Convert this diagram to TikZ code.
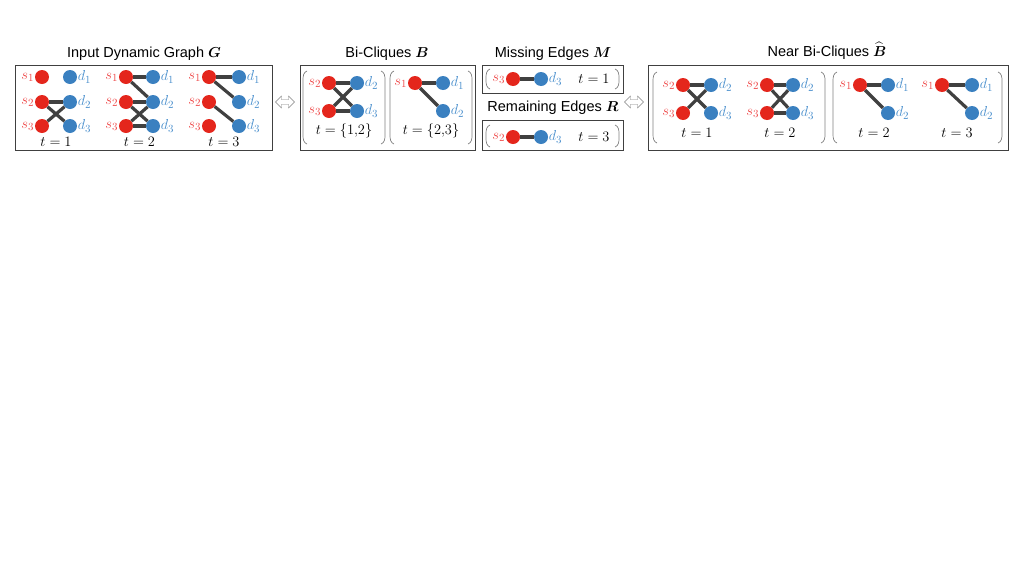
\documentclass[tikz,border=0pt]{standalone}
\usepackage{fontspec}
\setmainfont{Liberation Sans}
\usepackage{amsmath}
\usetikzlibrary{shapes,arrows}
\definecolor{sred}{RGB}{228,38,28}
\definecolor{dblue}{RGB}{58,128,192}
\definecolor{lred}{RGB}{238,72,72}
\definecolor{lblue}{RGB}{72,142,204}
\definecolor{egray}{RGB}{64,64,64}
\newcommand{\lparen}[3]{\draw[paren] (#1+4,#2) to[out=200,in=90] (#1,#2+9) -- (#1,#3-9) to[out=-90,in=160] (#1+4,#3);}
\newcommand{\rparen}[3]{\draw[paren] (#1-4,#2) to[out=-20,in=90] (#1,#2+9) -- (#1,#3-9) to[out=-90,in=20] (#1-4,#3);}
\begin{document}
\begin{tikzpicture}[x=1pt,y=-1pt,
  src/.style={circle, fill=sred, minimum size=14pt, inner sep=0pt,
    label={[text=lred, inner sep=0.5pt, font=\fontsize{15.5}{17}\selectfont]left:$s_{#1}$}},
  dst/.style={circle, fill=dblue, minimum size=14pt, inner sep=0pt,
    label={[text=lblue, inner sep=0.5pt, font=\fontsize{15.5}{17}\selectfont]right:$d_{#1}$}},
  edge/.style={draw=egray, line width=3.2pt},
  frame/.style={draw=egray, line width=0.8pt},
  paren/.style={draw=gray, line width=0.7pt},
  title/.style={font=\fontsize{14.5}{17}\selectfont},
  tlab/.style={font=\fontsize{15.5}{17}\selectfont, inner sep=0pt},
  dbl/.style={double arrow, draw=gray, fill=white, minimum height=19pt, minimum width=12pt, double arrow head extend=2pt, inner sep=1pt}
]
\useasboundingbox (0,0) rectangle (1024,576);

% input graph G
\node[title] (tG) at (144,54) {Input Dynamic Graph $\boldsymbol{G}$};
\draw[frame] (15,65) rectangle (272,150);
\foreach \c/\xs/\xd/\tt in {a/42/70/1, b/126/153/2, c/209/239/3} {
  \foreach \i/\y in {1/77, 2/102, 3/126} {
    \node[src=\i] (\c s\i) at (\xs,\y) {};
    \node[dst=\i] (\c d\i) at (\xd,\y) {};
  }
  \node[tlab] (\c t) at ({(\xs+\xd)/2},142) {$t=\tt$};
}
\foreach \a/\b in {as2/ad2, as2/ad3, as3/ad2,
  bs1/bd1, bs1/bd2, bs2/bd2, bs2/bd3, bs3/bd2, bs3/bd3,
  cs1/cd1, cs1/cd2, cs2/cd3}
  \draw[edge] (\a) -- (\b);

\node[dbl] (arr1) at (285,102) {};

% bi-cliques B
\node[title] (tB) at (387,54) {Bi-Cliques $\boldsymbol{B}$};
\draw[frame] (300,65) rectangle (475,150);
\lparen{303}{71}{144} \rparen{385}{71}{144}
\node[src=2] (e2) at (329,83) {};
\node[src=3] (e3) at (329,111) {};
\node[dst=2] (f2) at (357,83) {};
\node[dst=3] (f3) at (357,111) {};
\node[tlab] (et) at (344,131) {$t=\{1{,}2\}$};
\foreach \a/\b in {e2/f2, e2/f3, e3/f2, e3/f3}
  \draw[edge] (\a) -- (\b);
\lparen{390}{71}{144} \rparen{472}{71}{144}
\node[src=1] (g1) at (415,83) {};
\node[dst=1] (h1) at (443,83) {};
\node[dst=2] (h2) at (443,111) {};
\node[tlab] (gt) at (431,131) {$t=\{2{,}3\}$};
\draw[edge] (g1) -- (h1);
\draw[edge] (g1) -- (h2);

% missing and remaining edges
\node[title] (tM) at (553,54) {Missing Edges $\boldsymbol{M}$};
\draw[frame] (482,65) rectangle (623,93);
\lparen{486}{69}{89} \rparen{619}{69}{89}
\node[src=3] (m1) at (513,79) {};
\node[dst=3] (m2) at (541,79) {};
\node[tlab] (mt) at (594,79) {$t=1$};
\draw[edge] (m1) -- (m2);
\node[title] (tR) at (553,108) {Remaining Edges $\boldsymbol{R}$};
\draw[frame] (482,120) rectangle (623,150);
\lparen{486}{125}{147} \rparen{619}{125}{147}
\node[src=2] (r1) at (513,137) {};
\node[dst=3] (r2) at (541,137) {};
\node[tlab] (rt) at (594,137) {$t=3$};
\draw[edge] (r1) -- (r2);

\node[dbl] (arr2) at (634,102) {};

% near bi-cliques
\node[title] (tN) at (827,51) {Near Bi-Cliques $\widehat{\boldsymbol{B}}$};
\draw[frame] (648,65) rectangle (1008,150);
\lparen{653}{72}{143} \rparen{825}{72}{143}
\foreach \c/\xs/\xd/\tt in {n/683/711/1, p/767/793/2} {
  \node[src=2] (\c s2) at (\xs,85) {};
  \node[src=3] (\c s3) at (\xs,113) {};
  \node[dst=2] (\c d2) at (\xd,85) {};
  \node[dst=3] (\c d3) at (\xd,113) {};
  \node[tlab] (\c t) at ({(\xs+\xd)/2},133) {$t=\tt$};
}
\foreach \a/\b in {ns2/nd2, ns2/nd3, ns3/nd2,
  ps2/pd2, ps2/pd3, ps3/pd2, ps3/pd3}
  \draw[edge] (\a) -- (\b);
\lparen{833}{72}{143} \rparen{1002}{72}{143}
\foreach \c/\xs/\xd/\tt in {q/860/888/2, u/942/972/3} {
  \node[src=1] (\c s1) at (\xs,85) {};
  \node[dst=1] (\c d1) at (\xd,85) {};
  \node[dst=2] (\c d2) at (\xd,113) {};
  \node[tlab] (\c t) at ({(\xs+\xd)/2},133) {$t=\tt$};
  \draw[edge] (\c s1) -- (\c d1);
  \draw[edge] (\c s1) -- (\c d2);
}
\end{tikzpicture}
\end{document}
